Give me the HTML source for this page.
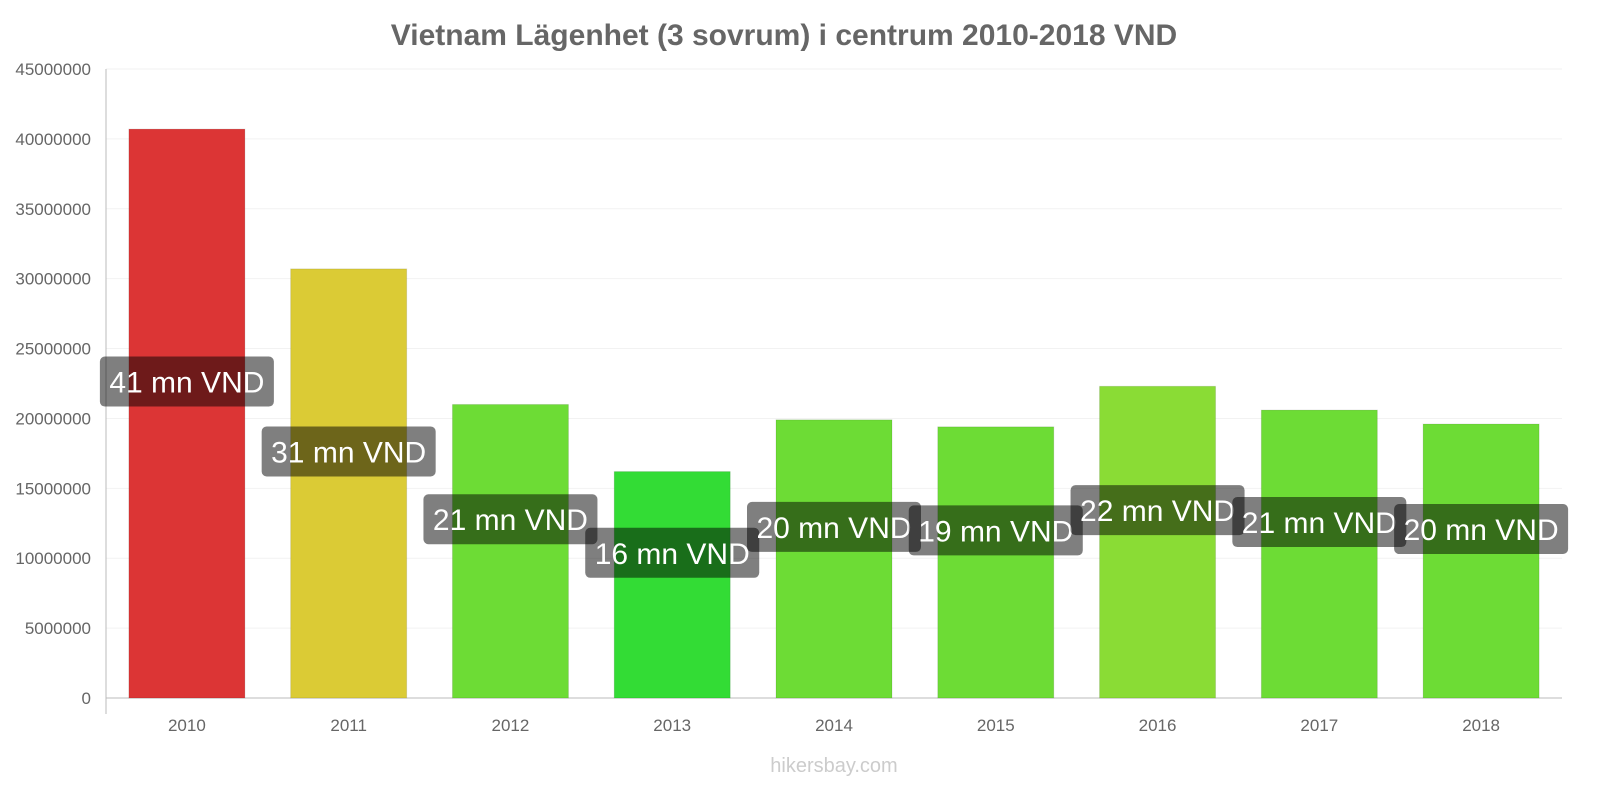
<!DOCTYPE html>
<html><head><meta charset="utf-8"><style>
body{margin:0;background:#fff;font-family:"Liberation Sans",sans-serif}
svg text{font-family:"Liberation Sans",sans-serif}
</style></head><body>
<svg id="c" width="1600" height="800" viewBox="0 0 1600 800">
<text x="784" y="45" text-anchor="middle" font-size="30" font-weight="bold" fill="#666">Vietnam Lägenhet (3 sovrum) i centrum 2010-2018 VND</text>
<g id="grid"></g><g id="bars"></g><g id="labels"></g>
<text x="834" y="772" text-anchor="middle" font-size="20" fill="#ccc">hikersbay.com</text>
</svg>
<script>
const categories=["2010","2011","2012","2013","2014","2015","2016","2017","2018"];
const values=[40700000,30700000,21000000,16200000,19900000,19400000,22300000,20600000,19600000];
const valueLabels=["41 mn VND","31 mn VND","21 mn VND","16 mn VND","20 mn VND","19 mn VND","22 mn VND","21 mn VND","20 mn VND"];
const colors=["#dc3535","#dbcb35","#6ddc35","#33dc35","#6ddc35","#6ddc35","#8adc35","#6ddc35","#6ddc35"];
const yTicks=[0,5000000,10000000,15000000,20000000,25000000,30000000,35000000,40000000,45000000];
const NS="http://www.w3.org/2000/svg";
const x0=106,x1=1562,y0=698,y1=69,yMax=45000000;
const y=v=>y0-(v/yMax)*(y0-y1);
const band=(x1-x0)/categories.length;
const xc=i=>x0+band*(i+0.5);
function mk(t,a,p){const e=document.createElementNS(NS,t);for(const k in a)e.setAttribute(k,a[k]);p.appendChild(e);return e;}
const g=document.getElementById('grid'),b=document.getElementById('bars'),l=document.getElementById('labels');
yTicks.forEach(v=>{
 const ln=mk('line',{x1:x0,x2:x1,y1:y(v),y2:y(v),stroke:v===0?'#bbb':'#f2f2f2'},g);
 
 
 const t=mk('text',{x:91,y:y(v)+6,'text-anchor':'end','font-size':17,fill:'#666'},g);t.textContent=v;
 
 
});
const ax=mk('line',{x1:x0,x2:x0,y1:y1,y2:y0+16,stroke:'#bbb'},g);


categories.forEach((c,i)=>{
 const bw=116,top=y(values[i]);
 const r=mk('rect',{x:xc(i)-bw/2,y:top,width:bw,height:y0-top,fill:colors[i],stroke:'rgba(0,0,0,0.1)'},b);
 
 
 const t=mk('text',{x:xc(i),y:731,'text-anchor':'middle','font-size':17,fill:'#666'},g);t.textContent=c;
 
 
 const cy=(top+y0)/2-32;
 const bx=mk('rect',{x:xc(i)-87,y:cy-25,width:174,height:50,rx:5,fill:'rgba(0,0,0,0.5)'},l);
 
 
 const vt=mk('text',{x:xc(i),y:cy+11,'text-anchor':'middle','font-size':30,fill:'#fff'},l);vt.textContent=valueLabels[i];
 
 
});
</script>
</body></html>
